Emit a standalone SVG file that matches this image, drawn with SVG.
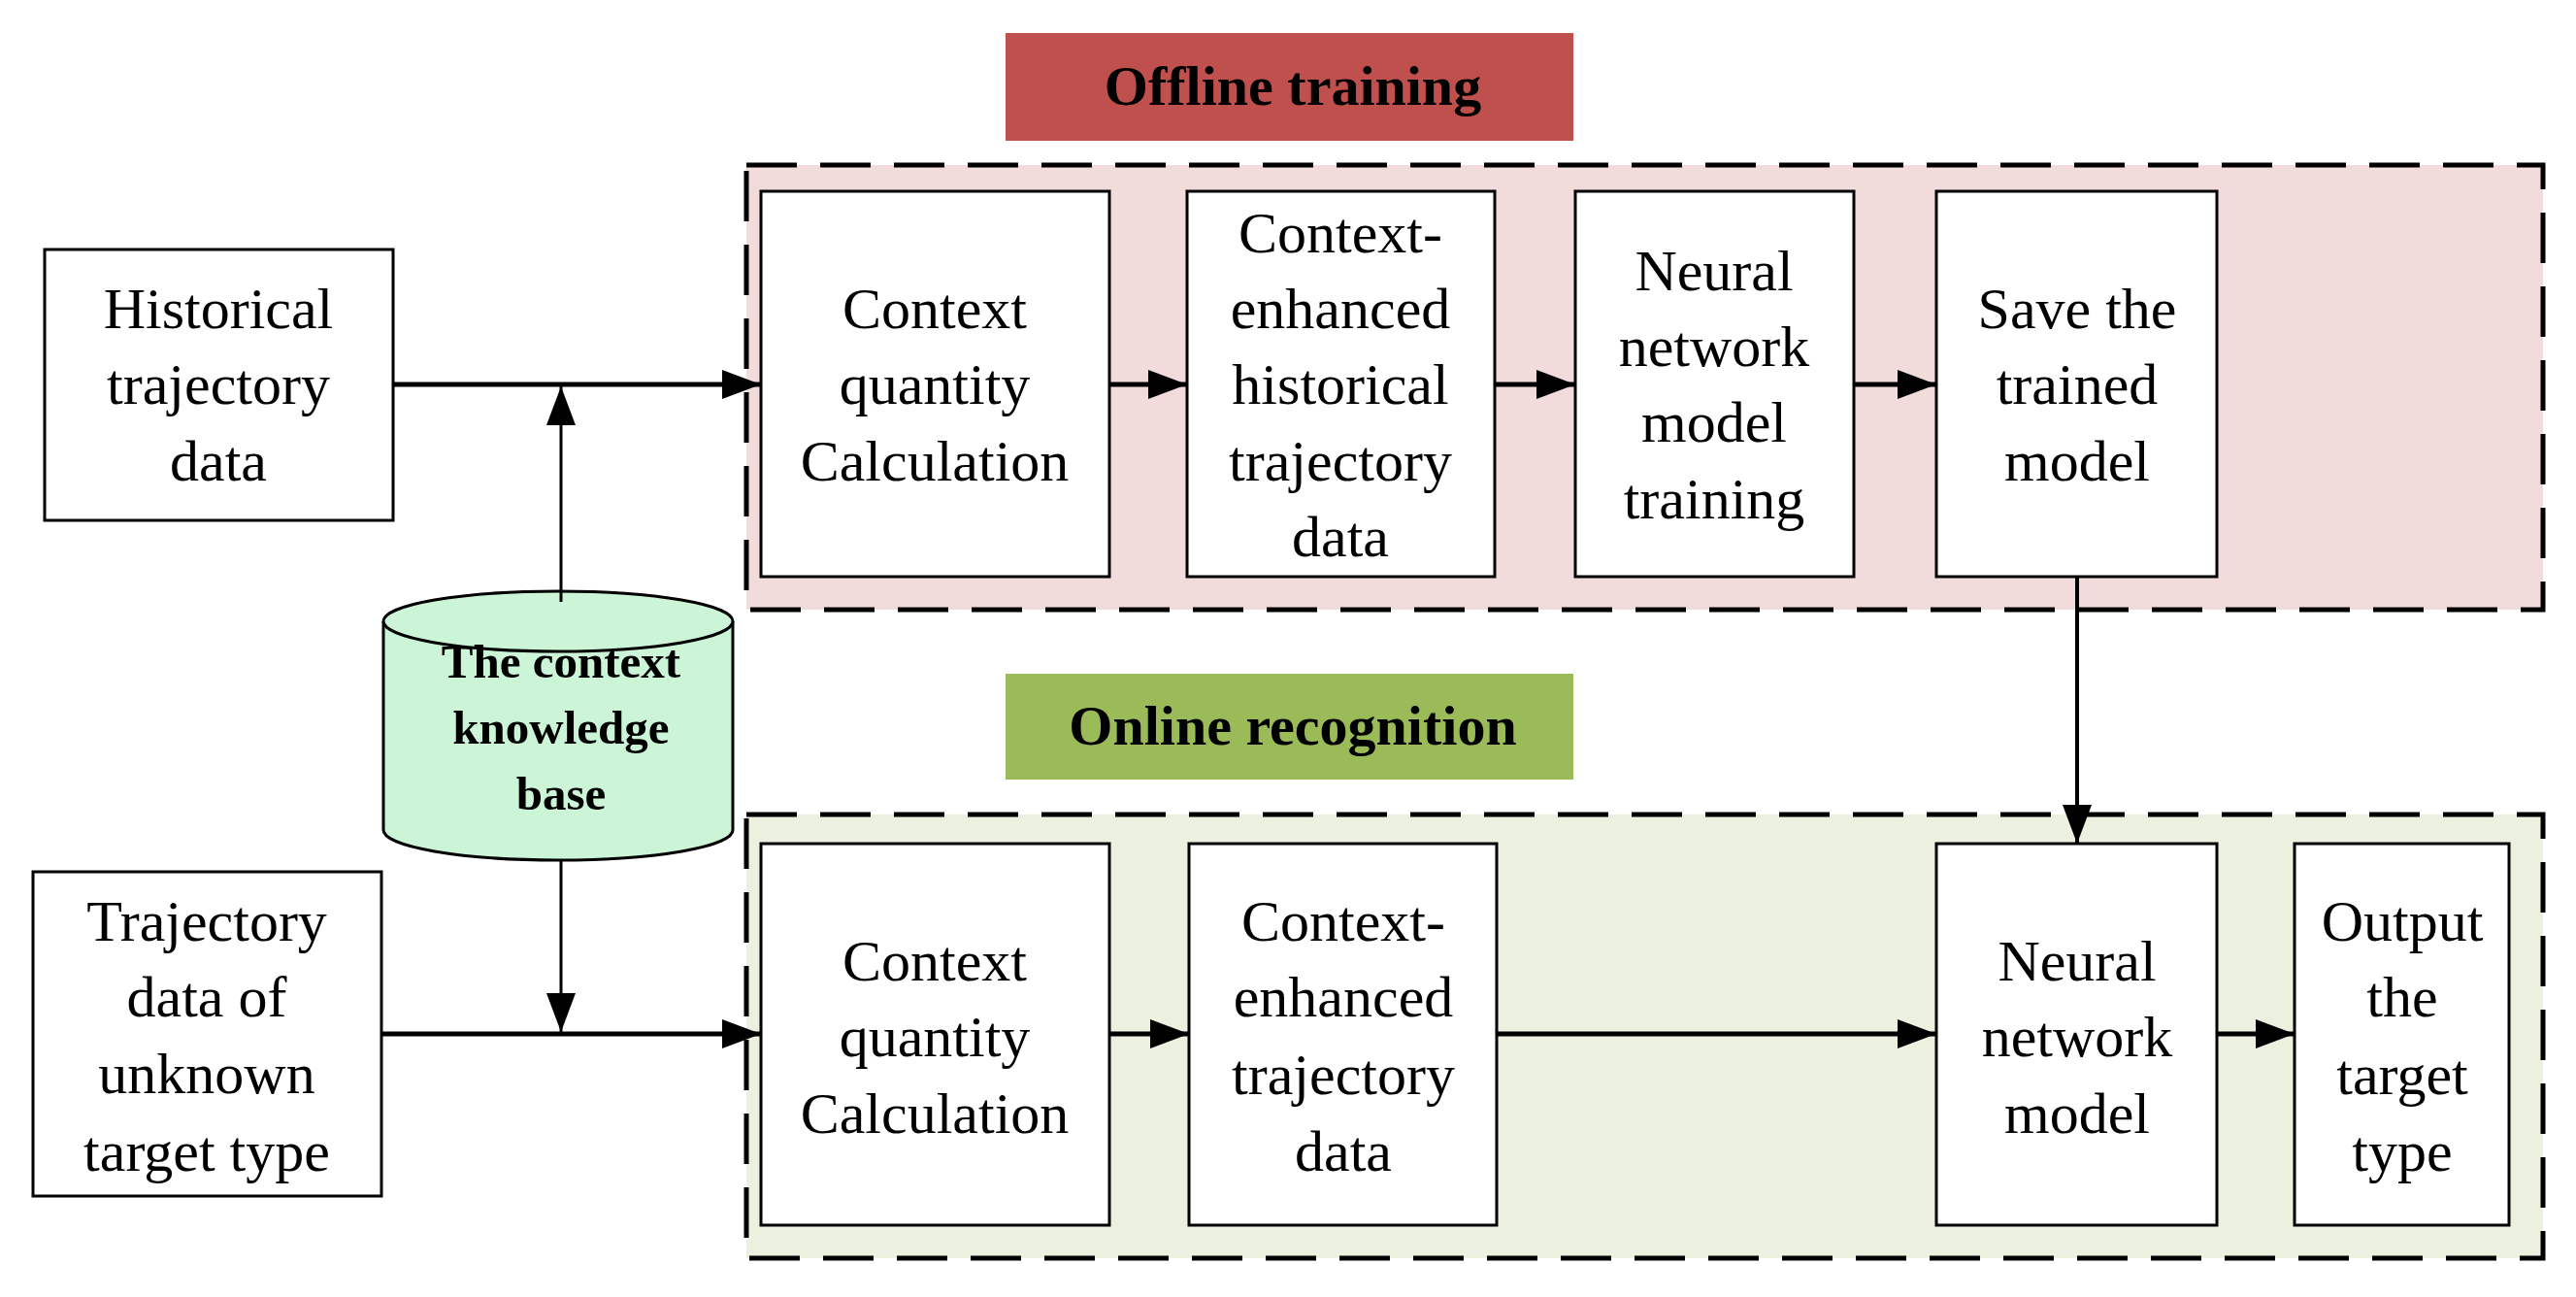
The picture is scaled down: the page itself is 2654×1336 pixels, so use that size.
<svg xmlns="http://www.w3.org/2000/svg" width="2654" height="1336" viewBox="0 0 2654 1336">
<style>
.b{fill:#fff;stroke:#000;stroke-width:3}
.t{font-family:"Liberation Serif",serif;font-size:60px;text-anchor:middle}
.h{font-family:"Liberation Serif",serif;font-size:58px;font-weight:bold;text-anchor:middle}
.c{font-family:"Liberation Serif",serif;font-size:49px;font-weight:bold;text-anchor:middle}
.reg{stroke:#000;stroke-width:5;stroke-dasharray:52 24}
.l{stroke:#000;stroke-width:5;fill:none;marker-end:url(#a)}
</style>
<defs><marker id="a" markerUnits="userSpaceOnUse" markerWidth="42" markerHeight="30" refX="40" refY="15" orient="auto"><path d="M0,0 L40,15 L0,30 Z" fill="#000"/></marker></defs>
<g id="offline-title"><rect x="1036" y="34" width="585" height="111" fill="#c0504d"/><text class="h" x="1332" y="108">Offline training</text></g>
<g id="offline-region"><rect class="reg" x="769" y="170" width="1851" height="458" fill="#f2dcdb"/></g>
<g id="online-title"><rect x="1036" y="694" width="585" height="109" fill="#9bbb59"/><text class="h" x="1332" y="767">Online recognition</text></g>
<g id="online-region"><rect class="reg" x="769" y="839" width="1851" height="457" fill="#ebf1de"/></g>
<g id="historical"><rect class="b" x="46" y="257" width="359" height="279"/><text class="t"><tspan x="225" y="338">Historical</tspan><tspan x="225" y="416">trajectory</tspan><tspan x="225" y="495">data</tspan></text></g>
<g id="cqc1"><rect class="b" x="784" y="197" width="359" height="397"/><text class="t"><tspan x="963" y="338">Context</tspan><tspan x="963" y="416">quantity</tspan><tspan x="963" y="495">Calculation</tspan></text></g>
<g id="ceh"><rect class="b" x="1223" y="197" width="317" height="397"/><text class="t"><tspan x="1381" y="260">Context-</tspan><tspan x="1381" y="338">enhanced</tspan><tspan x="1381" y="416">historical</tspan><tspan x="1381" y="495">trajectory</tspan><tspan x="1381" y="573">data</tspan></text></g>
<g id="nnmt"><rect class="b" x="1623" y="197" width="287" height="397"/><text class="t"><tspan x="1766" y="299">Neural</tspan><tspan x="1766" y="377">network</tspan><tspan x="1766" y="455">model</tspan><tspan x="1766" y="534">training</tspan></text></g>
<g id="save"><rect class="b" x="1995" y="197" width="289" height="397"/><text class="t"><tspan x="2140" y="338">Save the</tspan><tspan x="2140" y="416">trained</tspan><tspan x="2140" y="495">model</tspan></text></g>
<g id="kb"><path d="M395,640 L395,855 A180,31 0 0 0 755,855 L755,640" fill="#ccf5d8" stroke="#000" stroke-width="3"/><ellipse cx="575" cy="640" rx="180" ry="31" fill="#ccf5d8" stroke="#000" stroke-width="3"/><text class="c"><tspan x="578" y="698">The context</tspan><tspan x="578" y="766">knowledge</tspan><tspan x="578" y="834">base</tspan></text></g>
<g id="unknown"><rect class="b" x="34" y="898" width="359" height="334"/><text class="t"><tspan x="213" y="969">Trajectory</tspan><tspan x="213" y="1047">data of</tspan><tspan x="213" y="1126">unknown</tspan><tspan x="213" y="1206">target type</tspan></text></g>
<g id="cqc2"><rect class="b" x="784" y="869" width="359" height="393"/><text class="t"><tspan x="963" y="1010">Context</tspan><tspan x="963" y="1088">quantity</tspan><tspan x="963" y="1167">Calculation</tspan></text></g>
<g id="cet"><rect class="b" x="1225" y="869" width="317" height="393"/><text class="t"><tspan x="1384" y="969">Context-</tspan><tspan x="1384" y="1047">enhanced</tspan><tspan x="1384" y="1127">trajectory</tspan><tspan x="1384" y="1206">data</tspan></text></g>
<g id="nnm"><rect class="b" x="1995" y="869" width="289" height="393"/><text class="t"><tspan x="2140" y="1010">Neural</tspan><tspan x="2140" y="1088">network</tspan><tspan x="2140" y="1167">model</tspan></text></g>
<g id="output"><rect class="b" x="2364" y="869" width="221" height="393"/><text class="t"><tspan x="2475" y="969">Output</tspan><tspan x="2475" y="1047">the</tspan><tspan x="2475" y="1127">target</tspan><tspan x="2475" y="1206">type</tspan></text></g>
<g id="connectors">
<path class="l" d="M405,396 L784,396"/>
<path class="l" style="stroke-width:3" d="M578,620 L578,398"/>
<path class="l" d="M1143,396 L1223,396"/>
<path class="l" d="M1540,396 L1623,396"/>
<path class="l" d="M1910,396 L1995,396"/>
<path class="l" d="M393,1065 L784,1065"/>
<path class="l" style="stroke-width:3" d="M578,885 L578,1063"/>
<path class="l" d="M1143,1065 L1225,1065"/>
<path class="l" d="M1542,1065 L1995,1065"/>
<path class="l" d="M2284,1065 L2364,1065"/>
<path class="l" style="stroke-width:4" d="M2140,594 L2140,869"/>
</g>
</svg>
